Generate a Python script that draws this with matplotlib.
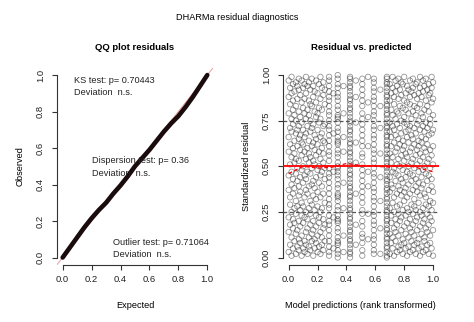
import matplotlib.pyplot as plt
import numpy as np

plt.rcParams['font.family'] = ['Liberation Sans', 'DejaVu Sans']

# QQ plot: expected vs observed quantiles
qq_expected = [0.0, 0.05, 0.1, 0.15, 0.2, 0.25, 0.3, 0.35, 0.4, 0.45, 0.5,
               0.55, 0.6, 0.65, 0.7, 0.75, 0.8, 0.85, 0.9, 0.95, 1.0]
qq_observed = [0.0, 0.055, 0.11, 0.165, 0.215, 0.26, 0.30, 0.35, 0.395, 0.445, 0.50,
               0.545, 0.59, 0.64, 0.69, 0.735, 0.775, 0.825, 0.88, 0.94, 1.0]

test_lines = ["KS test: p= 0.70443", "Deviation  n.s.",
              "Dispersion test: p= 0.36", "Deviation  n.s.",
              "Outlier test: p= 0.71064", "Deviation  n.s."]
test_x = [0.075, 0.075, 0.205, 0.205, 0.35, 0.35]
test_y = [0.969, 0.903, 0.529, 0.461, 0.081, 0.019]

# residual vs predicted: continuous cloud at low predictions (x, y in percent)
left_cloud_x = [0, 1, 2, 3, 4, 5, 6, 7, 8, 9, 10, 11, 12, 13, 14, 15, 16, 17, 18, 19,
                20, 21, 22, 23, 24, 25]
left_cloud_y = [
    [3, 14, 22, 37, 45, 58, 66, 79, 88, 97],
    [7, 18, 29, 33, 51, 62, 71, 84, 93],
    [1, 11, 25, 40, 47, 55, 69, 76, 90, 99],
    [5, 16, 21, 35, 43, 60, 73, 81, 86, 95],
    [9, 19, 27, 38, 52, 57, 64, 78, 91],
    [2, 13, 24, 31, 46, 54, 68, 75, 83, 96],
    [6, 15, 28, 42, 49, 61, 70, 87, 94],
    [4, 10, 20, 34, 39, 53, 65, 72, 80, 92, 98],
    [8, 17, 26, 36, 44, 59, 67, 77, 89],
    [1, 12, 23, 30, 48, 56, 63, 74, 85, 97],
    [5, 19, 28, 41, 50, 62, 70, 82, 93],
    [3, 9, 22, 33, 45, 58, 66, 79, 87, 95],
    [7, 14, 25, 37, 43, 54, 68, 76, 90, 99],
    [2, 16, 21, 35, 47, 60, 72, 81, 94],
    [6, 11, 27, 39, 52, 57, 64, 78, 86, 96],
    [4, 18, 24, 31, 46, 55, 69, 75, 84, 92],
    [9, 13, 29, 40, 49, 61, 71, 83, 98],
    [1, 15, 20, 34, 42, 53, 63, 73, 88, 94],
    [5, 10, 26, 38, 51, 59, 67, 80, 91],
    [8, 17, 23, 32, 44, 56, 65, 77, 85, 97],
    [3, 12, 28, 36, 48, 62, 70, 79, 90],
    [6, 19, 22, 41, 50, 58, 74, 82, 95],
    [2, 14, 25, 33, 45, 54, 66, 76, 87, 99],
    [7, 11, 27, 39, 47, 60, 68, 81, 93],
    [4, 16, 21, 35, 52, 57, 64, 72, 89, 96],
    [9, 18, 30, 43, 49, 63, 73, 84, 92],
]

# continuous cloud at high predictions
right_cloud_x = [70, 71, 72, 73, 74, 75, 76, 77, 78, 79, 80, 81, 82, 83, 84, 85, 86,
                 87, 88, 89, 90, 91, 92, 93, 94, 95, 96, 97, 98, 99, 100]
right_cloud_y = [
    [2, 13, 27, 36, 44, 57, 69, 74, 86, 95],
    [8, 19, 23, 40, 52, 61, 66, 81, 90],
    [5, 11, 30, 38, 47, 55, 72, 78, 93, 99],
    [1, 16, 25, 33, 49, 63, 70, 84, 88],
    [9, 14, 21, 42, 46, 58, 67, 76, 91, 97],
    [3, 18, 28, 35, 51, 60, 73, 80, 94],
    [6, 12, 24, 39, 45, 54, 65, 79, 87, 98],
    [4, 20, 29, 37, 50, 62, 71, 83, 92],
    [7, 15, 22, 34, 43, 56, 68, 75, 89, 96],
    [2, 10, 26, 41, 48, 59, 64, 82, 95],
    [8, 17, 31, 36, 53, 61, 74, 77, 86, 99],
    [5, 13, 23, 38, 44, 57, 69, 81, 90],
    [1, 19, 27, 33, 47, 55, 66, 73, 85, 94],
    [6, 11, 25, 40, 50, 63, 70, 79, 92],
    [3, 16, 21, 35, 46, 58, 72, 84, 88, 97],
    [9, 14, 29, 42, 52, 60, 67, 76, 91],
    [4, 18, 24, 37, 45, 54, 65, 80, 93, 98],
    [7, 12, 28, 32, 49, 62, 71, 83, 89],
    [2, 20, 26, 39, 43, 56, 68, 78, 95],
    [8, 15, 22, 36, 51, 59, 73, 82, 87, 96],
    [5, 10, 30, 41, 47, 61, 64, 75, 90],
    [1, 17, 25, 34, 53, 57, 70, 84, 93, 99],
    [6, 13, 23, 38, 44, 63, 66, 79, 88],
    [3, 19, 27, 40, 48, 55, 72, 77, 91, 97],
    [9, 11, 21, 35, 50, 60, 69, 81, 94],
    [4, 16, 29, 33, 46, 58, 65, 74, 86, 98],
    [7, 14, 24, 42, 52, 62, 71, 83, 92],
    [2, 18, 28, 37, 45, 54, 67, 80, 89, 95],
    [8, 12, 22, 31, 49, 59, 73, 76, 90],
    [5, 20, 26, 39, 43, 56, 68, 85, 93, 99],
    [1, 15, 30, 36, 51, 61, 70, 78, 87, 96],
]

# discrete prediction values in the middle (stripes)
stripe_x = [28, 31, 34, 38, 42.5, 46.5, 51, 55, 59, 63.5, 68]
stripe_y = [
    [1, 3, 6, 9, 12, 15, 18, 20, 23, 27, 29, 32, 35, 38, 41, 44, 46, 49, 53, 56, 58,
     61, 64, 67, 70, 72, 75, 78, 80, 83, 86, 88, 91, 94, 97, 99],
    [5, 22, 47, 68, 90],
    [0, 2, 4, 7, 8, 9, 11, 14, 16, 19, 20, 21, 23, 26, 28, 31, 33, 34, 35, 38, 40, 43,
     45, 47, 49, 50, 52, 55, 57, 59, 62, 63, 64, 66, 69, 71, 74, 76, 77, 78, 81, 83,
     86, 88, 90, 93, 95, 98, 100],
    [3, 12, 27, 41, 58, 66, 79, 94],
    [0, 2, 3, 5, 7, 9, 10, 12, 14, 15, 17, 19, 21, 22, 24, 26, 27, 29, 31, 33, 34, 36,
     38, 39, 41, 43, 45, 46, 48, 50, 51, 53, 55, 57, 58, 60, 62, 63, 65, 67, 69, 70,
     72, 74, 75, 77, 79, 81, 82, 84, 86, 87, 89, 91, 93, 94, 96, 98, 99],
    [7, 18, 35, 52, 63, 74, 88, 97],
    [1, 4, 8, 11, 13, 17, 20, 24, 26, 30, 33, 36, 39, 42, 45, 48, 51, 55, 57, 61, 64,
     67, 70, 73, 76, 79, 83, 86, 89, 92, 95, 98],
    [10, 24, 39, 47, 61, 77, 85, 99],
    [2, 4, 7, 10, 12, 15, 18, 20, 23, 25, 28, 31, 33, 36, 38, 41, 44, 46, 49, 52, 54,
     57, 59, 62, 65, 67, 70, 72, 75, 78, 80, 83, 86, 88, 91, 93, 96, 98],
    [2, 16, 31, 44, 57, 71, 83, 92],
    [0, 1, 3, 5, 6, 8, 10, 11, 13, 15, 16, 18, 20, 21, 23, 25, 26, 28, 30, 32, 33, 35,
     37, 38, 40, 42, 43, 45, 47, 49, 50, 52, 54, 55, 57, 59, 61, 62, 64, 66, 67, 69,
     71, 72, 74, 76, 78, 79, 81, 83, 84, 86, 88, 89, 91, 93, 95, 96, 98, 99],
]

# fitted median quantile curve
quant_x = [0.0, 0.1, 0.2, 0.3, 0.4, 0.5, 0.6, 0.7, 0.8, 0.9, 1.0]
quant_y = [0.46, 0.50, 0.49, 0.495, 0.515, 0.505, 0.50, 0.495, 0.51, 0.49, 0.47]

fig = plt.figure(figsize=(4.74, 3.22), dpi=100)
fig.text(0.5, 0.947, "DHARMa residual diagnostics", ha="center", va="center", fontsize=6.6)

ax1 = fig.add_axes([0.12, 0.1776, 0.3295, 0.612])
ax2 = fig.add_axes([0.5968, 0.1776, 0.329, 0.612])

for ax in (ax1, ax2):
    ax.set_xlim(-0.04, 1.04)
    ax.set_ylim(-0.04, 1.04)
    for s in ("top", "right"):
        ax.spines[s].set_visible(False)
    ax.spines["left"].set_bounds(0, 1)
    ax.spines["bottom"].set_bounds(0, 1)
    for s in ("left", "bottom"):
        ax.spines[s].set_linewidth(0.8)
        ax.spines[s].set_color("#333333")
    ax.tick_params(length=3.5, width=0.8, color="#333333", labelsize=6.8, pad=4,
                   labelcolor="#222222")
    ax.tick_params(axis="y", labelrotation=90, pad=5)
    ax.set_xticks([0, 0.2, 0.4, 0.6, 0.8, 1.0])
    ax.set_xticklabels(["0.0", "0.2", "0.4", "0.6", "0.8", "1.0"])

# left: QQ plot
ax1.axline((0, 0), slope=1, color="#e89a9a", lw=0.7, zorder=1)
ax1.plot(qq_expected, qq_observed, color="#1a0c0c", lw=3.3, solid_capstyle="round", zorder=2)
ax1.set_yticks([0, 0.2, 0.4, 0.6, 0.8, 1.0])
ax1.set_yticklabels(["0.0", "0.2", "0.4", "0.6", "0.8", "1.0"], va="center")
ax1.set_title("QQ plot residuals", fontsize=6.8, fontweight="bold", pad=13)
ax1.set_xlabel("Expected", fontsize=6.6, labelpad=12)
ax1.set_ylabel("Observed", fontsize=6.6, labelpad=8)
for txt, tx, ty in zip(test_lines, test_x, test_y):
    ax1.text(tx, ty, txt, fontsize=6.6, va="center", ha="left", color="#222222")

# right: residual vs predicted
pts_x, pts_y = [], []
for cx, ys in zip(left_cloud_x, left_cloud_y):
    pts_x += [cx / 100] * len(ys)
    pts_y += [v / 100 for v in ys]
for cx, ys in zip(stripe_x, stripe_y):
    pts_x += [cx / 100] * len(ys)
    pts_y += [v / 100 for v in ys]
for cx, ys in zip(right_cloud_x, right_cloud_y):
    pts_x += [cx / 100] * len(ys)
    pts_y += [v / 100 for v in ys]
ax2.scatter(pts_x, pts_y, s=15, facecolors="none", edgecolors=(0, 0, 0, 0.42),
            linewidths=0.6, zorder=2)
for h in (0.25, 0.75):
    ax2.axhline(h, color="#555555", lw=0.9, ls=(0, (3, 2)), zorder=3)
ax2.axhline(0.5, color="red", lw=1.3, zorder=4)
ax2.plot(quant_x, quant_y, color="red", lw=0.9, ls=(0, (3, 2)), zorder=4)
ax2.set_yticks([0, 0.25, 0.5, 0.75, 1.0])
ax2.set_yticklabels(["0.00", "0.25", "0.50", "0.75", "1.00"], va="center")
ax2.set_title("Residual vs. predicted", fontsize=6.8, fontweight="bold", pad=13)
ax2.set_xlabel("Model predictions (rank transformed)", fontsize=6.6, labelpad=12)
ax2.set_ylabel("Standardized residual", fontsize=6.6, labelpad=8)

fig.savefig("out.png", dpi=100)
